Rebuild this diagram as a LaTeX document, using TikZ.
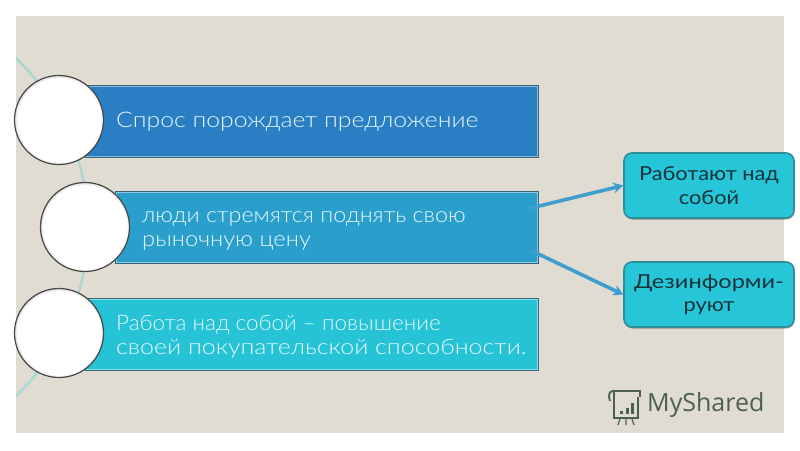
\documentclass[tikz,border=0pt]{standalone}
\usepackage{fontspec}
\usepackage{graphicx}
\setmainfont{Open Sans}
\newfontfamily\mainfnt[FakeStretch=1.13,UprightFont={* Light}]{Lato}
\newfontfamily\sidefnt[FakeStretch=1.13]{Lato}
\newfontfamily\logofnt{Open Sans}
\usetikzlibrary{arrows.meta,shadows}
\definecolor{pagebg}{HTML}{E0DCD1}
\definecolor{arcc}{HTML}{A9D8D3}
\definecolor{barA}{HTML}{2A7EC3}
\definecolor{barB}{HTML}{2B9FCB}
\definecolor{barC}{HTML}{25C3D5}
\definecolor{barline}{HTML}{3A6478}
\definecolor{sideline}{HTML}{2F8C9B}
\definecolor{sidefill}{HTML}{26C6D8}
\definecolor{arrowc}{HTML}{3F9ED0}
\definecolor{txtlight}{HTML}{E8F8FB}
\definecolor{txtdark}{HTML}{16323A}
\definecolor{logoc}{HTML}{4D5F50}
\pgfdeclareradialshading{disc}{\pgfpoint{0bp}{0bp}}{color(0bp)=(white);color(20bp)=(white);color(23.5bp)=(white);color(25bp)=(black!14)}
\newcommand{\wline}[2]{\scalebox{#1}[1]{#2}}
\tikzset{
  barbox/.style={draw=barline,line width=1pt,rectangle,anchor=north west,minimum height=72pt,inner sep=0pt,
    path picture={\draw[white,opacity=.45,line width=2.4pt] (path picture bounding box.north west) rectangle (path picture bounding box.south east);}},
  disc/.style={circle,draw=black!72,line width=1.2pt,shading=disc,minimum size=89pt,inner sep=0pt},
  bartext/.style={anchor=west,align=left,text=txtlight,inner sep=0pt,font=\mainfnt\fontsize{21.5}{24.5}\selectfont},
  sidebox/.style={draw=sideline,line width=1.6pt,fill=sidefill,rounded corners=8pt,minimum width=170pt,minimum height=65pt,align=center,inner sep=0pt,text=txtdark,
    drop shadow={shadow xshift=0.5pt,shadow yshift=-1.5pt,opacity=.35,fill=black},font=\sidefnt\fontsize{19.3}{23.5}\selectfont},
  conn/.style={draw=arrowc,line width=3.6pt,-{Stealth[length=10pt,width=11pt]}}
}
\begin{document}
\begin{tikzpicture}[x=1pt,y=-1pt]
\useasboundingbox (0,0) rectangle (800,450);
\fill[white] (0,0) rectangle (800,450);
\fill[pagebg] (16,16) rectangle (784,433);
\begin{scope}
\clip (16,16) rectangle (784,433);
\draw[arcc,line width=2.4pt] (-146,227) circle (234);
\end{scope}
\node[barbox,fill=barA,minimum width=453pt] (b1) at (85,85) {};
\node[barbox,fill=barB,minimum width=423pt] (b2) at (115,191) {};
\node[barbox,fill=barC,minimum width=453pt] (b3) at (85,298) {};
\node[bartext] (t1) at (116,121.5) {\wline{1.02}{Спрос порождает предложение}};
\node[bartext] (t2) at (142,231) {\wline{0.96}{люди стремятся поднять свою}\\\wline{0.977}{рыночную цену}};
\node[bartext] (t3) at (116,336.5) {\wline{0.926}{Работа над собой – повышение}\\\wline{1.028}{своей покупательской способности.}};
\node[disc] (c1) at (59,120) {};
\node[disc] (c2) at (85,227) {};
\node[disc] (c3) at (59,333) {};
\node[sidebox] (s1) at (709,185.5) {Работают над\\собой};
\node[sidebox] (s2) at (709,294.5) {\wline{1.08}{Дезинформи-}\\руют};
\coordinate (o1) at (529,208.5);
\coordinate (o2) at (530,250);
\draw[conn] (o1) -- (s1.west);
\draw[conn] (o2) -- (s2.west);
% logo
\begin{scope}[logoc]
\draw[line width=1.8pt] (613,391) -- (640,391) -- (640,397);
\draw[line width=1.8pt] (613,391) .. controls (609,391) and (608,396) .. (610,401);
\draw[line width=1.8pt] (614,391) -- (614,418) -- (638,418) -- (638,397);
\fill (620,411) rectangle (623,414);
\fill (626,408) rectangle (629,414);
\fill (631,403) rectangle (634,414);
\draw[line width=1.2pt] (620,419) -- (618,425) (626,419) -- (626,425) (632,419) -- (634,425);
\end{scope}
\node[anchor=west,inner sep=0pt,text=logoc,font=\logofnt\fontsize{25}{30}\selectfont] (logo) at (647,405) {MyShared};
\end{tikzpicture}
\end{document}
